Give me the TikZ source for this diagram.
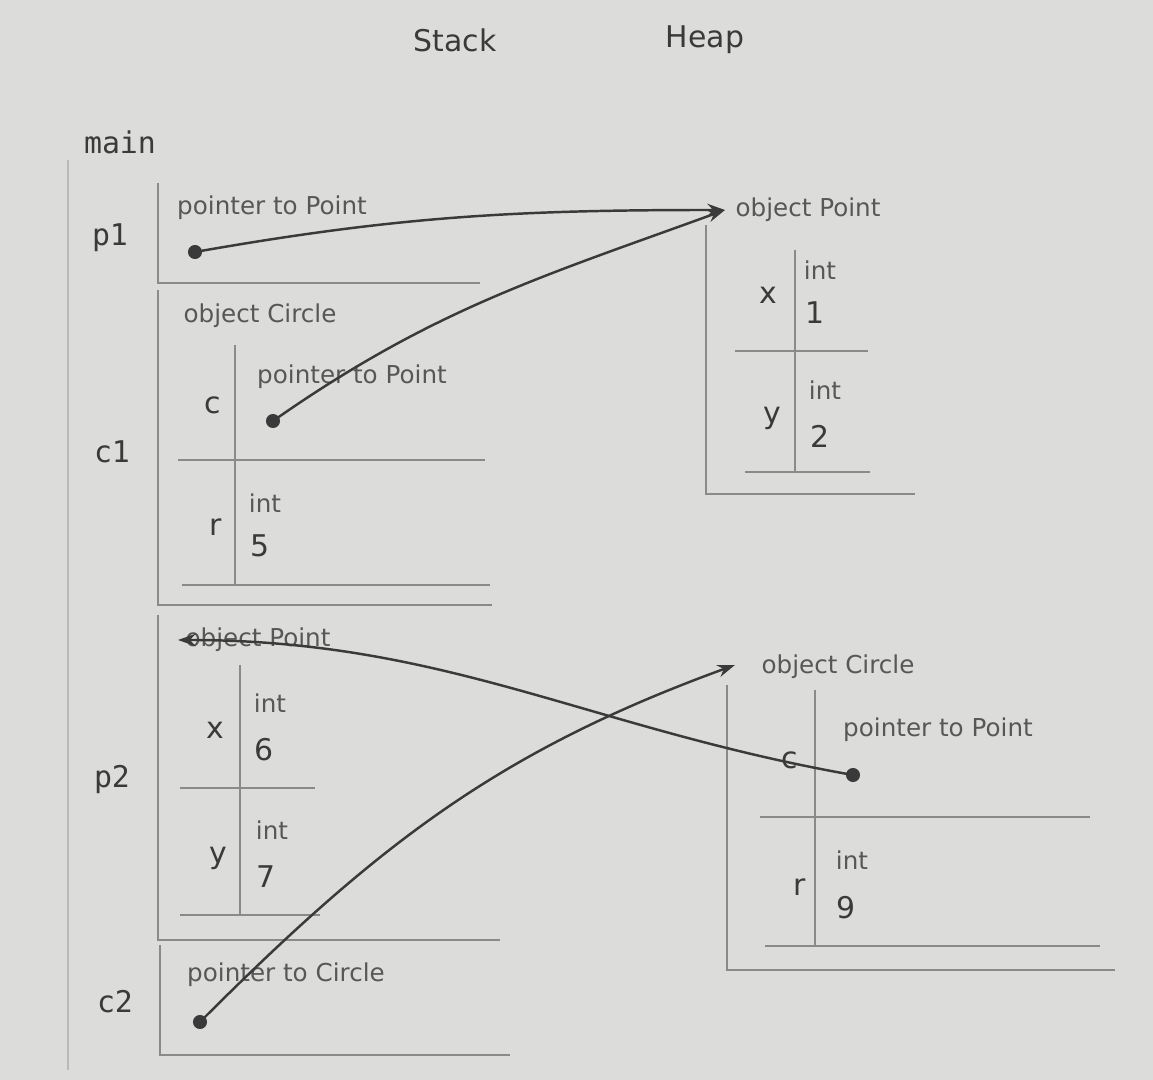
\documentclass[tikz,border=0pt]{standalone}
\usepackage{fontspec}
\setmainfont{DejaVu Sans}
\newfontfamily\monofont{DejaVu Sans Mono}
\usetikzlibrary{arrows.meta}
\definecolor{paper}{HTML}{DCDCDA}
\definecolor{ink}{HTML}{3A3A3A}
\definecolor{rule}{HTML}{8A8A88}
\begin{document}
\begin{tikzpicture}[
   x=0.01cm,y=-0.01cm,
   font=\fontsize{8.5}{10}\selectfont,
   lbl/.style={text=ink,inner sep=1pt},
   small/.style={text=ink!85,inner sep=1pt,font=\fontsize{7}{8}\selectfont},
   varname/.style={text=ink,inner sep=1pt,font=\monofont\fontsize{8.5}{10}\selectfont},
   frame/.style={draw=rule,line width=0.5pt},
   dot/.style={circle,fill=ink,inner sep=0pt,minimum size=4pt},
   ptr/.style={-{Stealth[length=5pt,width=3.5pt]},draw=ink,line width=0.7pt}]
\useasboundingbox (0,0) rectangle (1153,1080);
\fill[paper] (0,0) rectangle (1153,1080);
\node[lbl] (stack) at (455,40) {Stack};
\node[lbl] (heap) at (705,40) {Heap};
\node[varname] (main) at (120,142) {main};
\draw[frame,draw=rule!60] (68,160) -- (68,1070);
% p1
\node[varname] (p1) at (110,238) {p1};
\draw[frame] (158,183) -- (158,283) -- (480,283);
\node[small] (p1t) at (272,208) {pointer to Point};
\node[dot] (p1d) at (195,252) {};
% c1
\node[varname] (c1) at (112,452) {c1};
\draw[frame] (158,290) -- (158,605) -- (492,605);
\node[small] (c1t) at (260,316) {object Circle};
\draw[frame] (235,345) -- (235,585);
\draw[frame] (178,460) -- (485,460);
\draw[frame] (182,585) -- (490,585);
\node[lbl] (c1c) at (213,405) {c};
\node[small] (c1ct) at (352,377) {pointer to Point};
\node[dot] (c1d) at (273,421) {};
\node[lbl] (c1r) at (216,527) {r};
\node[small] (c1rt) at (265,503) {int};
\node[lbl] (c1rv) at (260,546) {5};
% p2
\node[varname] (p2) at (112,780) {p2};
\draw[frame] (158,615) -- (158,940) -- (500,940);
\node[small] (p2t) at (258,640) {object Point};
\draw[frame] (240,665) -- (240,915);
\draw[frame] (180,788) -- (315,788);
\draw[frame] (180,915) -- (320,915);
\node[lbl] (p2x) at (215,730) {x};
\node[small] (p2xt) at (270,703) {int};
\node[lbl] (p2xv) at (264,750) {6};
\node[lbl] (p2y) at (218,858) {y};
\node[small] (p2yt) at (272,830) {int};
\node[lbl] (p2yv) at (266,877) {7};
\coordinate (p2in) at (178,640);
% c2
\node[varname] (c2) at (115,1002) {c2};
\draw[frame] (160,945) -- (160,1055) -- (510,1055);
\node[small] (c2t) at (286,975) {pointer to Circle};
\node[dot] (c2d) at (200,1022) {};
% heap Point
\node[small] (hpt) at (808,210) {object Point};
\coordinate (hpin) at (725,210);
\draw[frame] (706,225) -- (706,494) -- (915,494);
\draw[frame] (795,250) -- (795,472);
\draw[frame] (735,351) -- (868,351);
\draw[frame] (745,472) -- (870,472);
\node[lbl] (hpx) at (768,295) {x};
\node[small] (hpxt) at (820,270) {int};
\node[lbl] (hpxv) at (815,313) {1};
\node[lbl] (hpy) at (772,418) {y};
\node[small] (hpyt) at (825,390) {int};
\node[lbl] (hpyv) at (820,436) {2};
% heap Circle
\node[small] (hct) at (838,667) {object Circle};
\coordinate (hcin) at (735,665);
\draw[frame] (727,685) -- (727,970) -- (1115,970);
\draw[frame] (815,690) -- (815,945);
\draw[frame] (760,817) -- (1090,817);
\draw[frame] (765,946) -- (1100,946);
\node[lbl] (hcc) at (790,760) {c};
\node[small] (hcct) at (938,730) {pointer to Point};
\node[dot] (hcd) at (853,775) {};
\node[lbl] (hcr) at (800,887) {r};
\node[small] (hcrt) at (852,860) {int};
\node[lbl] (hcrv) at (846,908) {9};
% pointers
\draw[ptr] (p1d.center) to[out=10,in=180] (hpin);
\draw[ptr] (c1d.center) to[out=35,in=200] (hpin);
\draw[ptr] (hcd.center) to[out=170,in=0] (p2in);
\draw[ptr] (c2d.center) to[out=45,in=200] (hcin);
\end{tikzpicture}
\end{document}
